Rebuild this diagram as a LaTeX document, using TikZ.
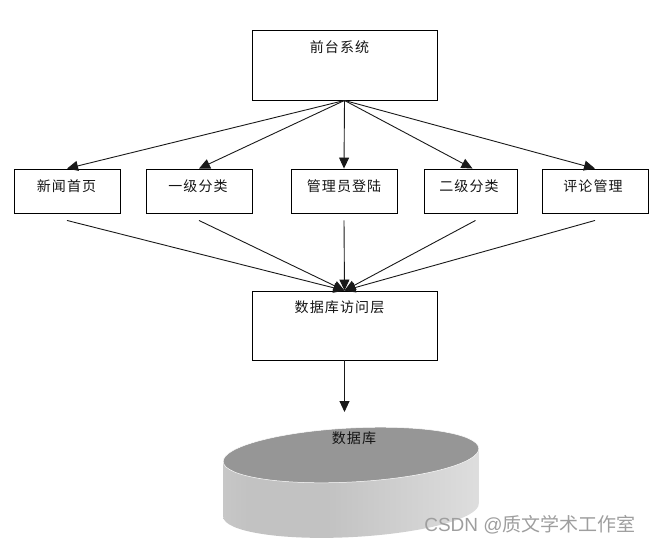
\documentclass[tikz,border=0pt]{standalone}
\usepackage{fontspec}
\setmainfont{Liberation Sans}
\newfontfamily\cjk[LetterSpace=8]{Noto Sans CJK SC}
\newfontfamily\cjkw{Noto Sans CJK SC}
\usetikzlibrary{arrows.meta,calc}
\pgfdeclarehorizontalshading{sideshade}{100bp}{
  color(0bp)=(black!12);
  color(30bp)=(black!24);
  color(45bp)=(black!24);
  color(75bp)=(black!13);
  color(100bp)=(black!6)}
\tikzset{
  x=1pt,y=-1pt,
  boxnode/.style={draw=black,line width=0.9pt,rectangle,inner sep=0pt,minimum width=0pt},
  caption/.style={font=\fontsize{14}{16}\selectfont\cjk,text=black!92,inner sep=0pt},
  flow/.style={draw=black!90,line width=0.9pt,-{Triangle[length=11pt,width=10pt]}},
}
\begin{document}
\begin{tikzpicture}
\useasboundingbox (0,0) rectangle (650,544);
% boxes
\node[boxnode,minimum width=185pt,minimum height=70pt] (top) at (344.5,65) {};
\node[boxnode,minimum width=106pt,minimum height=44pt] (b1) at (67,191) {};
\node[boxnode,minimum width=106pt,minimum height=44pt] (b2) at (199,191) {};
\node[boxnode,minimum width=106pt,minimum height=44pt] (b3) at (344,191) {};
\node[boxnode,minimum width=93pt,minimum height=44pt] (b4) at (470.5,191) {};
\node[boxnode,minimum width=106pt,minimum height=44pt] (b5) at (595,191) {};
\node[boxnode,minimum width=185pt,minimum height=69pt] (dal) at (344.5,325.5) {};
% labels
\node[caption] (ttop) at (339.5,47.5) {前台系统};
\node[caption] (t1) at (66.5,186) {新闻首页};
\node[caption] (t2) at (198,186) {一级分类};
\node[caption] (t3) at (344,186) {管理员登陆};
\node[caption] (t4) at (469,186) {二级分类};
\node[caption] (t5) at (593,186) {评论管理};
\node[caption] (tdal) at (339.5,307.5) {数据库访问层};
% connectors
\coordinate (e4) at ($(b4.north)+(2,0)$);
\draw[flow] (top.south) -- (b1.north);
\draw[flow] (top.south) -- (b2.north);
\draw[flow] (top.south) -- (b3.north);
\draw[flow] (top.south) -- (e4);
\draw[flow] (top.south) -- (b5.north);
\coordinate (s1) at ($(b1.south)+(0,7)$);
\coordinate (s2) at ($(b2.south)+(0,7)$);
\coordinate (s3) at ($(b3.south)+(0,7)$);
\coordinate (s4) at ($(b4.south)+(5,7)$);
\coordinate (s5) at ($(b5.south)+(0,7)$);
\foreach \n in {s1,s2,s3,s4,s5} \draw[flow] (\n) -- (dal.north);
\coordinate (dbin) at (344.5,412);
\draw[flow] (dal.south) -- (dbin);
% cylinder
\begin{scope}[shift={(351,455)},rotate=3,x=1pt,y=1pt]
  \shade[shading=sideshade]
    (180:128 and 27) -- ++(-2.9,-55)
    arc[start angle=180,end angle=360,x radius=128,y radius=27]
    -- ++(2.9,55) -- cycle;
  \fill[black!41,draw=white,line width=0.5pt] (0,0) ellipse[x radius=128,y radius=27];
\end{scope}
\node[caption] (tdb) at (354,438.5) {数据库};
\node[inner sep=0pt,text=black!38,font=\fontsize{19}{21}\selectfont] (wm) at (530,525) {CSDN @{\cjkw 质文学术工作室}};
\end{tikzpicture}
\end{document}
